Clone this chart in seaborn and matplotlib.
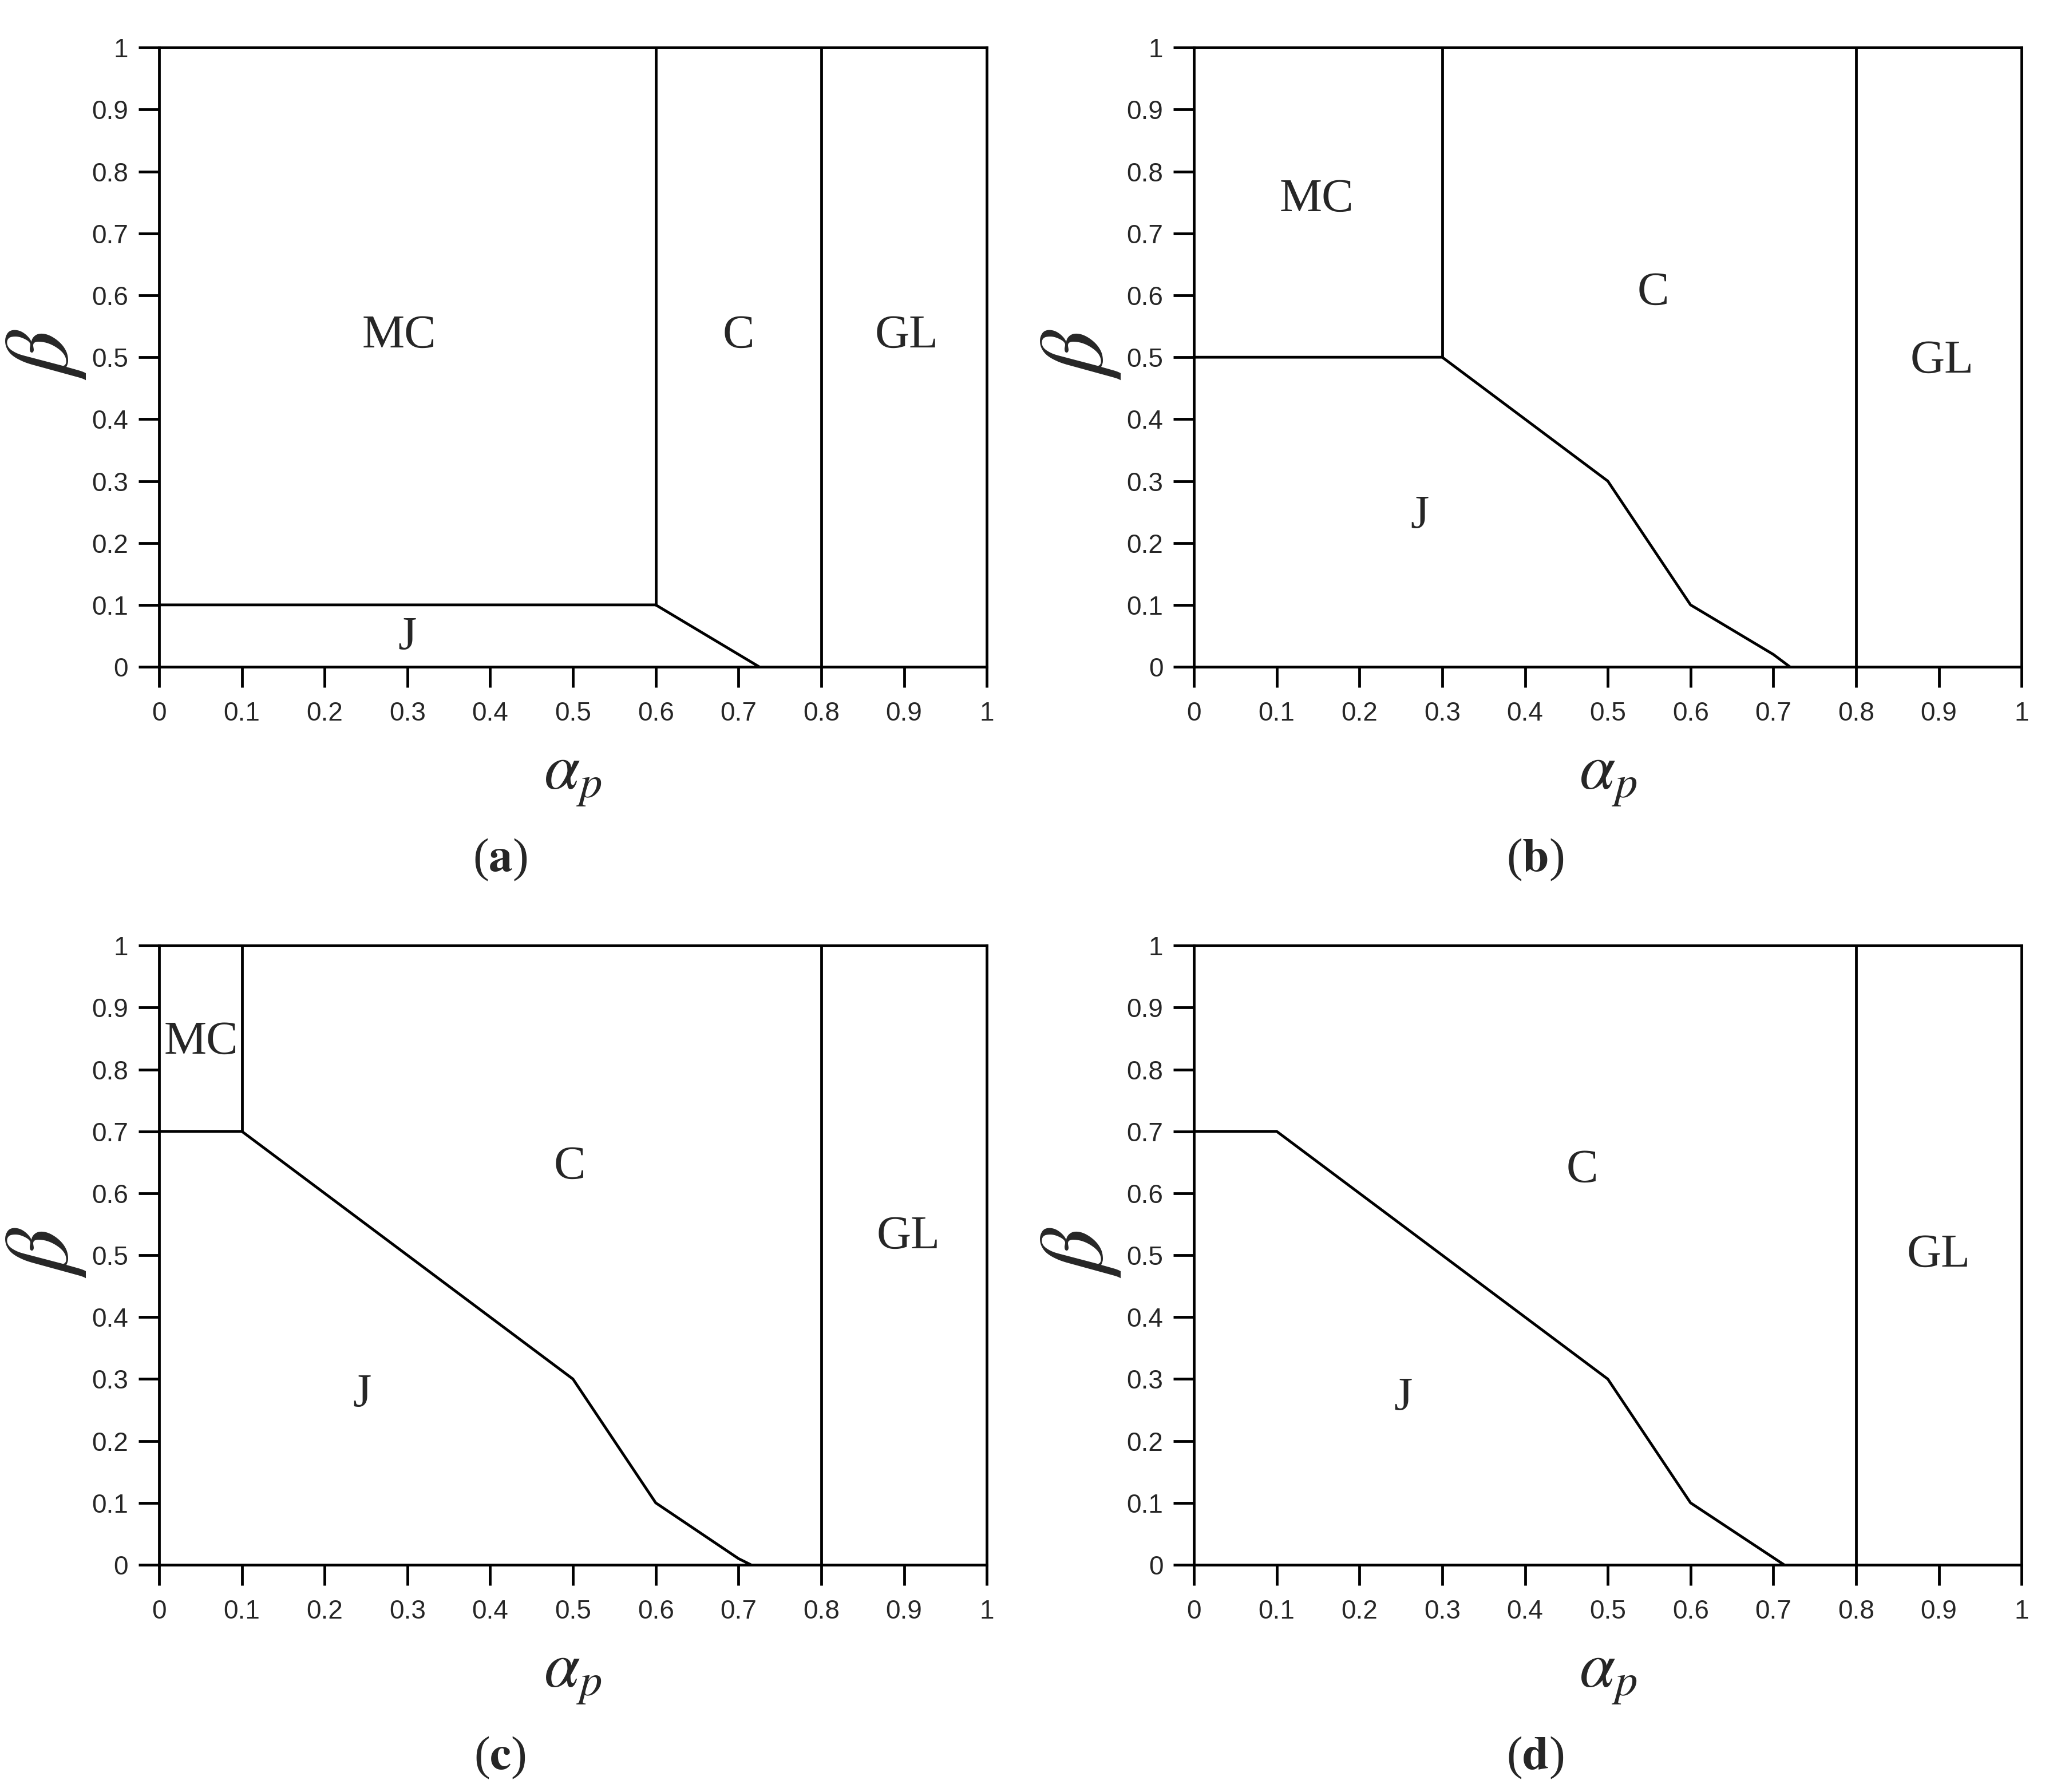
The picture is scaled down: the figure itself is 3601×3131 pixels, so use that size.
import numpy as np
import pandas as pd
import seaborn as sns
from matplotlib import pyplot as plt

# phase boundaries
# (a)
a_j_x = [0.0, 0.6, 0.7, 0.725]
a_j_y = [0.1, 0.1, 0.02, 0.0]
a_mc_x = [0.6, 0.6]
a_mc_y = [0.1, 1.0]
# (b)
b_j_x = [0.0, 0.3, 0.5, 0.6, 0.7, 0.72]
b_j_y = [0.5, 0.5, 0.3, 0.1, 0.02, 0.0]
b_mc_x = [0.3, 0.3]
b_mc_y = [0.5, 1.0]
# (c)
c_j_x = [0.0, 0.1, 0.5, 0.6, 0.7, 0.715]
c_j_y = [0.7, 0.7, 0.3, 0.1, 0.01, 0.0]
c_mc_x = [0.1, 0.1]
c_mc_y = [0.7, 1.0]
# (d)
d_j_x = [0.0, 0.1, 0.5, 0.6, 0.713]
d_j_y = [0.7, 0.7, 0.3, 0.1, 0.0]

gl_x = [0.8, 0.8]
gl_y = [0.0, 1.0]

# region labels (name, alpha_p, beta)
a_labels = [("MC", 0.29, 0.534), ("C", 0.70, 0.534), ("GL", 0.903, 0.534), ("J", 0.30, 0.047)]
b_labels = [("MC", 0.148, 0.754), ("C", 0.555, 0.604), ("GL", 0.904, 0.494), ("J", 0.273, 0.243)]
c_labels = [("MC", 0.051, 0.844), ("C", 0.496, 0.642), ("GL", 0.905, 0.53), ("J", 0.245, 0.274)]
d_labels = [("C", 0.469, 0.637), ("GL", 0.90, 0.50), ("J", 0.253, 0.269)]

ticks = np.round(np.arange(0, 1.01, 0.1), 1)
tick_labels = ["0"] + [f"{t:.1f}" for t in ticks[1:-1]] + ["1"]

panels = [
    ("a", [(a_j_x, a_j_y), (a_mc_x, a_mc_y), (gl_x, gl_y)], a_labels),
    ("b", [(b_j_x, b_j_y), (b_mc_x, b_mc_y), (gl_x, gl_y)], b_labels),
    ("c", [(c_j_x, c_j_y), (c_mc_x, c_mc_y), (gl_x, gl_y)], c_labels),
    ("d", [(d_j_x, d_j_y), (gl_x, gl_y)], d_labels),
]

sns.set_style("ticks")
plt.rcParams["font.family"] = ["Liberation Sans", "DejaVu Sans"]
plt.rcParams["mathtext.fontset"] = "stix"

fig = plt.figure(figsize=(3601 / 300, 3131 / 300), dpi=300)

lefts = [0.0772, 0.5793]
bottoms = [0.6279, 0.1268]
w, h = 0.4016, 0.3455
lw = 1.15

for i, (tag, lines, labels) in enumerate(panels):
    ax = fig.add_axes([lefts[i % 2], bottoms[i // 2], w, h])
    for xs, ys in lines:
        df = pd.DataFrame({"x": xs, "y": ys})
        sns.lineplot(data=df, x="x", y="y", ax=ax, color="black", lw=lw,
                     sort=False, estimator=None)
    for name, x, y in labels:
        ax.text(x, y, name, ha="center", va="center", fontsize=20,
                family="Liberation Serif")

    ax.set_xlim(0, 1)
    ax.set_ylim(0, 1)
    ax.set_xticks(ticks)
    ax.set_yticks(ticks)
    ax.set_xticklabels(tick_labels)
    ax.set_yticklabels(tick_labels)
    ax.tick_params(axis="both", direction="out", length=8.6, width=lw,
                   labelsize=11, color="black")
    ax.tick_params(axis="x", pad=5.8)
    ax.tick_params(axis="y", pad=4.3)
    for s in ax.spines.values():
        s.set_visible(True)
        s.set_linewidth(lw)
        s.set_color("black")

    ax.set_xlabel(r"$\alpha_p$", fontsize=27)
    ax.xaxis.set_label_coords(0.5, -0.129)
    ax.set_ylabel("")
    ax.text(-0.137, 0.505, r"$\beta$", transform=ax.transAxes, rotation=90,
            ha="center", va="center", fontsize=38)

    ax.text(0.412, -0.312, r"($\mathbf{" + tag + r"}$)", transform=ax.transAxes,
            ha="center", va="center", fontsize=20, family="Liberation Serif")

fig.savefig("out.png", dpi=300)
